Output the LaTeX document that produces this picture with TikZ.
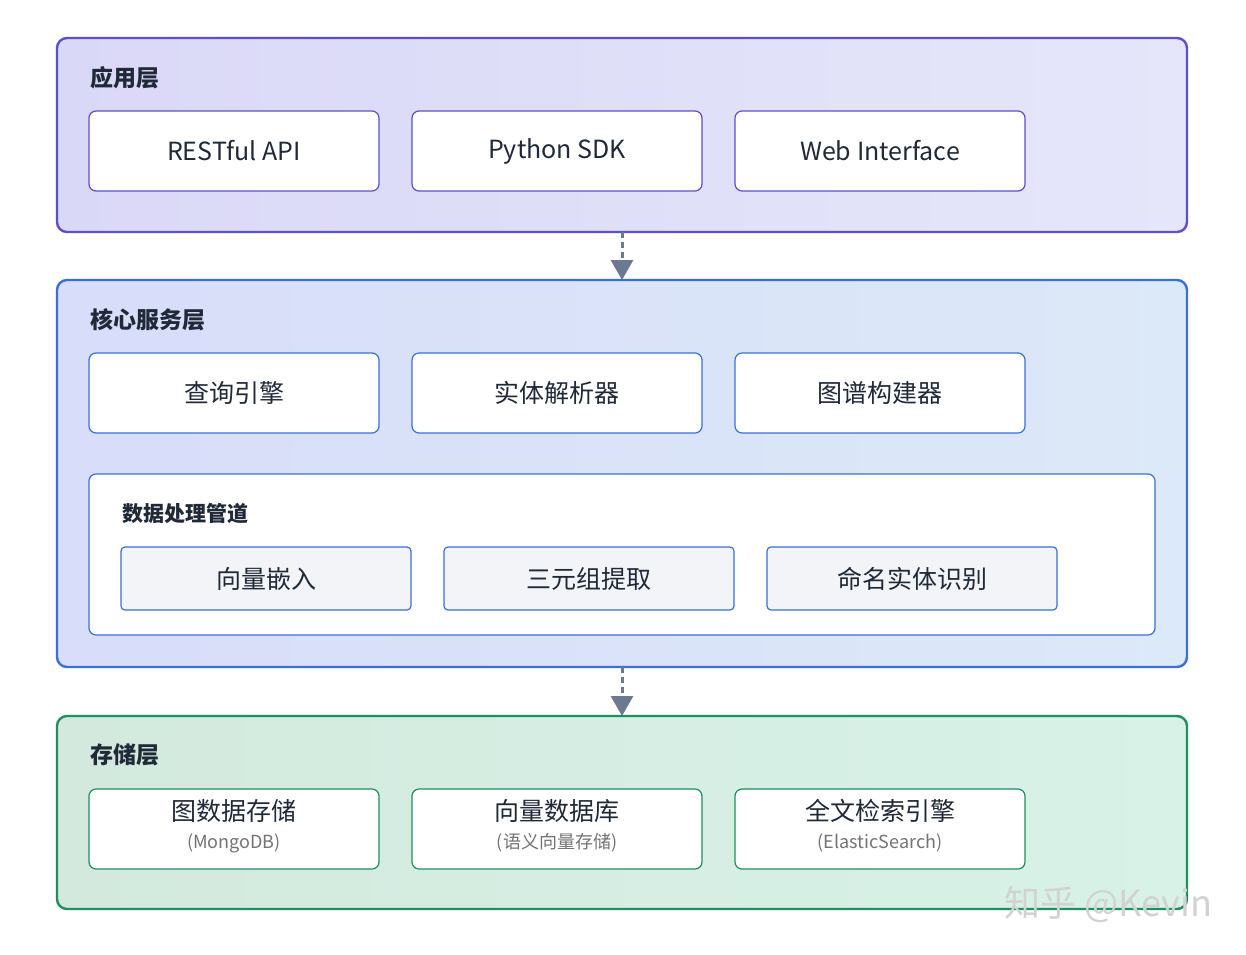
\documentclass[tikz,border=0pt]{standalone}
\usepackage{fontspec}
\setmainfont{Noto Sans CJK SC}
\usetikzlibrary{arrows.meta}
\definecolor{pur}{HTML}{5B4FD0}
\definecolor{blu}{HTML}{3B6FD8}
\definecolor{grn}{HTML}{1E9060}
\definecolor{txt}{HTML}{1F2937}
\definecolor{arr}{HTML}{6B7A90}
\definecolor{aL}{HTML}{DAD8F7}
\definecolor{aR}{HTML}{E5E6FA}
\definecolor{cL}{HTML}{D8DDF9}
\definecolor{cR}{HTML}{DCE9F8}
\definecolor{sL}{HTML}{D3E9DE}
\definecolor{sR}{HTML}{D8F2E7}
\definecolor{subf}{HTML}{F2F4F7}
\tikzset{
 layer/.style={rounded corners=10pt,line width=2.4pt},
 box/.style={rounded corners=7pt,line width=1.2pt,fill=white,minimum width=290pt,minimum height=80pt,text=txt,font=\fontsize{25}{29}\selectfont},
 sub/.style={rounded corners=4pt,line width=1.2pt,draw=blu,fill=subf,minimum width=290pt,minimum height=63pt,text=txt,font=\fontsize{25}{29}\selectfont},
 ttl/.style={anchor=west,text=txt,font=\fontsize{23}{27}\selectfont\bfseries},
 con/.style={arr,line width=3pt,dash pattern=on 6pt off 4pt,-{Triangle[length=20pt,width=22pt]}},
}
\begin{document}
\begin{tikzpicture}[x=1pt,y=-1pt]
\useasboundingbox (0,0) rectangle (1246,954);
\fill[white] (0,0) rectangle (1246,954);
% application layer
\shade[rounded corners=10pt,left color=aL,right color=aR] (57,38) rectangle (1187,232);
\draw[layer,draw=pur] (57,38) rectangle (1187,232);
\node[ttl] (t1) at (87,78) {应用层};
\node[box,draw=pur] (a1) at (234,151) {RESTful API};
\node[box,draw=pur] (a2) at (557,151) {Python SDK};
\node[box,draw=pur] (a3) at (880,151) {Web Interface};
\coordinate (l1b) at (622,232);
\coordinate (l2t) at (622,280);
% core layer
\shade[rounded corners=10pt,left color=cL,right color=cR] (57,280) rectangle (1187,667);
\draw[layer,draw=blu] (57,280) rectangle (1187,667);
\node[ttl] (t2) at (87,320) {核心服务层};
\node[box,draw=blu] (c1) at (234,393) {查询引擎};
\node[box,draw=blu] (c2) at (557,393) {实体解析器};
\node[box,draw=blu] (c3) at (880,393) {图谱构建器};
\draw[rounded corners=7pt,line width=1.2pt,draw=blu,fill=white] (89,474) rectangle (1155,635);
\node[ttl,font=\fontsize{21}{25}\selectfont\bfseries] (t3) at (119,514) {数据处理管道};
\node[sub] (p1) at (266,578.5) {向量嵌入};
\node[sub] (p2) at (589,578.5) {三元组提取};
\node[sub] (p3) at (912,578.5) {命名实体识别};
\coordinate (l2b) at (622,667);
\coordinate (l3t) at (622,716);
% storage layer
\shade[rounded corners=10pt,left color=sL,right color=sR] (57,716) rectangle (1187,909);
\draw[layer,draw=grn] (57,716) rectangle (1187,909);
\node[ttl] (t4) at (87,755) {存储层};
\node[box,draw=grn] (s1) at (234,829) {};
\node[box,draw=grn] (s2) at (557,829) {};
\node[box,draw=grn] (s3) at (880,829) {};
\node[text=txt,font=\fontsize{25}{29}\selectfont] (s1a) at (234,811) {图数据存储};
\node[text=gray!90!black,font=\fontsize{18}{21}\selectfont] (s1b) at (234,843) {(MongoDB)};
\node[text=txt,font=\fontsize{25}{29}\selectfont] (s2a) at (557,811) {向量数据库};
\node[text=gray!90!black,font=\fontsize{18}{21}\selectfont] (s2b) at (557,843) {(语义向量存储)};
\node[text=txt,font=\fontsize{25}{29}\selectfont] (s3a) at (880,811) {全文检索引擎};
\node[text=gray!90!black,font=\fontsize{18}{21}\selectfont] (s3b) at (880,843) {(ElasticSearch)};
% connectors
\draw[con] (l1b) -- (l2t);
\draw[con] (l2b) -- (l3t);
% watermark
\node[text=gray!35,font=\fontsize{36}{42}\selectfont,anchor=east] (wm) at (1216,904) {知乎 @Kevin};
\end{tikzpicture}
\end{document}
